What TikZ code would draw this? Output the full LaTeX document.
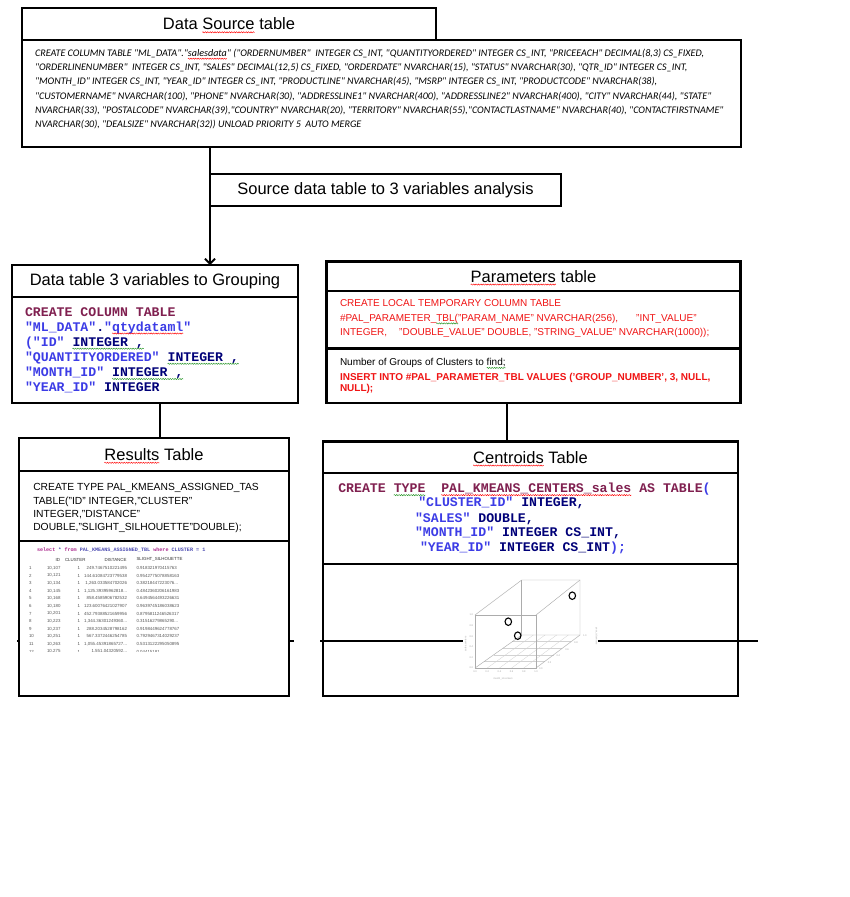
\documentclass[tikz,border=0pt]{standalone}
\usepackage{fontspec}
\setmainfont{Liberation Sans}
\newfontfamily\calfont{Carlito}
\newfontfamily\monofont{Liberation Mono}
\usetikzlibrary{arrows.meta,calc,shapes.geometric,decorations.pathmorphing}
\definecolor{kw}{RGB}{128,32,80}
\definecolor{str}{RGB}{60,60,230}
\definecolor{ty}{RGB}{0,0,120}
\definecolor{sqg}{RGB}{40,150,40}
\definecolor{qmag}{RGB}{170,40,140}
\definecolor{pred}{RGB}{240,20,20}
\newsavebox\sqbox
\newcommand\sqw[2]{\sbox\sqbox{#2}\rlap{\usebox\sqbox}\tikz[x=1pt,y=1pt,baseline=0pt]{\useasboundingbox (0,0) rectangle (\wd\sqbox,0); \draw[#1,line width=0.45pt,decorate,decoration={zigzag,segment length=2.4pt,amplitude=0.6pt}] (0,-2.4) -- (\wd\sqbox,-2.4);}}
\newcommand\rsq[1]{\sqw{red}{#1}}
\newcommand\gsq[1]{\sqw{sqg}{#1}}
\newcommand\ckw[1]{\textcolor{kw}{#1}}
\newcommand\cstr[1]{\textcolor{str}{#1}}
\newcommand\cty[1]{\textcolor{ty}{#1}}
\newcommand\mydots{.\kern0pt.\kern0pt.}
\tikzset{
 box/.style={draw, line width=2.6pt, inner sep=0pt, outer sep=0pt},
 ttl/.style={box, font=\fontsize{16.5}{19}\selectfont},
 txt/.style={anchor=base west, inner sep=0pt, outer sep=0pt},
 dsf/.style={txt, font=\calfont\itshape\fontsize{10.1}{12}\selectfont},
 code/.style={txt, font=\monofont\bfseries\fontsize{13.2}{15}\selectfont},
 ar/.style={txt, font=\fontsize{10}{12}\selectfont},
 arr/.style={txt, font=\fontsize{10.3}{12}\selectfont},
 arb/.style={txt, font=\bfseries\fontsize{10}{12}\selectfont},
 conn/.style={line width=1.8pt},
 cell/.style={inner sep=0pt, outer sep=0pt, font=\fontsize{4.4}{5}\selectfont, text=black!65},
 tick/.style={inner sep=0pt, outer sep=0pt, font=\fontsize{2.5}{3}\selectfont, text=gray!70},
 cgrid/.style={gray!35, line width=0.3pt},
 cedge/.style={gray!65, line width=0.45pt},
 dot/.style={ellipse, draw=black, line width=1.1pt, minimum width=6.5pt, minimum height=7.5pt, inner sep=0pt}
}
\begin{document}
\begin{tikzpicture}[x=1pt,y=-1pt]
\useasboundingbox (0,0) rectangle (850,897);
\fill[white] (0,0) rectangle (850,897);

% boxes
\node[ttl, minimum width=414, minimum height=32] (dsT) at (229,24) {Data \rsq{Source} table};
\node[box, minimum width=719, minimum height=107] (dsB) at (381.5,93.5) {};
\node[ttl, minimum width=351, minimum height=32] (srcB) at (385.5,190) {Source data table to 3 variables analysis};
\node[ttl, minimum width=286, minimum height=32] (dtT) at (155,281) {Data table 3 variables to Grouping};
\node[box, minimum width=286, minimum height=106] (dtB) at (155,350) {};
\node[ttl, minimum width=414, minimum height=29.5] (ptT) at (533.5,276.25) {\rsq{Parameters} table};
\node[box, minimum width=414, minimum height=57.5] (ptB1) at (533.5,319.75) {};
\node[box, minimum width=414, minimum height=54.5] (ptB2) at (533.5,375.75) {};
\node[ttl, minimum width=270, minimum height=33] (rtT) at (154,454.5) {\rsq{Results} Table};
\node[box, minimum width=270, minimum height=70] (rtB1) at (154,506) {};
\node[box, minimum width=270, minimum height=155] (rtB2) at (154,618.5) {};
\node[ttl, minimum width=415, minimum height=31.5] (ctT) at (530.5,457.25) {\rsq{Centroids} Table};
\node[box, minimum width=415, minimum height=91] (ctB1) at (530.5,518.5) {};
\node[box, minimum width=415, minimum height=132] (ctB2) at (530.5,630) {};

% connectors
\draw[conn, -{Straight Barb[length=5pt,width=10pt]}] (dsB.south -| srcB.west) -- (dtT.north -| srcB.west);
\draw[conn] ([xshift=5]dtB.south) -- ([xshift=6]rtT.north);
\draw[conn] ([xshift=-26.5]ptB2.south) -- ([xshift=-23.5]ctT.north);

% horizontal line segments
\coordinate (h1) at (17,641);
\coordinate (h2) at (20,641);
\coordinate (h3) at (288,641);
\coordinate (h4) at (294,641);
\coordinate (h5) at (320,641);
\coordinate (h6) at (463,641);
\coordinate (h7) at (598,641);
\coordinate (h8) at (758,641);
\draw[conn] (h1) -- (h2);
\draw[conn] (h3) -- (h4);
\draw[conn] (h5) -- (h6);
\draw[conn] (h7) -- (h8);

% data source text
\node[dsf] (ds1) at (35,56.3) {CREATE COLUMN TABLE "ML\_DATA"."\rsq{salesdata}" ("ORDERNUMBER"~ INTEGER CS\_INT, "QUANTITYORDERED" INTEGER CS\_INT, "PRICEEACH" DECIMAL(8,3) CS\_FIXED,};
\node[dsf] (ds2) at (35,70.6) {"ORDERLINENUMBER"~ INTEGER CS\_INT, "SALES" DECIMAL(12,5) CS\_FIXED, "ORDERDATE" NVARCHAR(15), "STATUS" NVARCHAR(30), "QTR\_ID" INTEGER CS\_INT,};
\node[dsf] (ds3) at (35,84.9) {"MONTH\_ID" INTEGER CS\_INT, "YEAR\_ID" INTEGER CS\_INT, "PRODUCTLINE" NVARCHAR(45), "MSRP" INTEGER CS\_INT, "PRODUCTCODE" NVARCHAR(38),};
\node[dsf] (ds4) at (35,99.2) {"CUSTOMERNAME" NVARCHAR(100), "PHONE" NVARCHAR(30), "ADDRESSLINE1" NVARCHAR(400), "ADDRESSLINE2" NVARCHAR(400), "CITY" NVARCHAR(44), "STATE"};
\node[dsf] (ds5) at (35,113.3) {NVARCHAR(33), "POSTALCODE" NVARCHAR(39),"COUNTRY" NVARCHAR(20), "TERRITORY" NVARCHAR(55),"CONTACTLASTNAME" NVARCHAR(40), "CONTACTFIRSTNAME"};
\node[dsf] (ds6) at (35,127.3) {NVARCHAR(30), "DEALSIZE" NVARCHAR(32)) UNLOAD PRIORITY 5~ AUTO MERGE};

% data table code
\node[code] (dt1) at (25,316) {\ckw{CREATE COLUMN TABLE}};
\node[code] (dt2) at (25,331.1) {\cstr{"ML\_DATA"}\cty{.}\cstr{"\rsq{qtydataml}"}};
\node[code] (dt3) at (25,346.3) {\cstr{("ID"} \cty{\gsq{INTEGER ,}}};
\node[code] (dt4) at (25,361.4) {\cstr{"QUANTITYORDERED"} \cty{\gsq{INTEGER ,}}};
\node[code] (dt5) at (25,376.6) {\cstr{"MONTH\_ID"} \cty{\gsq{INTEGER ,}}};
\node[code] (dt6) at (25,391.7) {\cstr{"YEAR\_ID"} \cty{INTEGER}};

% parameters text
\node[ar, text=pred] (pt1) at (340,306.7) {CREATE LOCAL TEMPORARY COLUMN TABLE};
\node[ar, text=pred] (pt2) at (340,321) {\#PAL\_PARAMETER\_\gsq{TBL(}"PARAM\_NAME" NVARCHAR(256),\hspace{18pt}"INT\_VALUE"};
\node[ar, text=pred] (pt3) at (340,335) {INTEGER,\hspace{12pt}"DOUBLE\_VALUE" DOUBLE, "STRING\_VALUE" NVARCHAR(1000));};
\node[ar] (pt4) at (340,365.5) {Number of Groups of Clusters to \gsq{find;}};
\node[arb, text=pred] (pt5) at (340,380.7) {INSERT INTO \#PAL\_PARAMETER\_TBL VALUES ('GROUP\_NUMBER', 3, NULL,};
\node[arb, text=pred] (pt6) at (340,391.7) {NULL);};

% results text
\node[arr] (rt1) at (33.3,490) {CREATE TYPE PAL\_KMEANS\_ASSIGNED\_TAS};
\node[arr] (rt2) at (33.3,504) {TABLE("ID" INTEGER,"CLUSTER"};
\node[arr] (rt3) at (33.3,517.7) {INTEGER,"DISTANCE"};
\node[arr] (rt4) at (33.3,530) {DOUBLE,"SLIGHT\_SILHOUETTE"DOUBLE);};

% centroids code
\node[code] (ct1) at (338.3,492.7) {\ckw{CREATE} \ckw{\gsq{TYPE}}~~\ckw{\rsq{PAL\_KMEANS\_CENTERS\_sales}} \ckw{AS TABLE}\cstr{(}};
\node[code] (ct2) at (418.3,506.7) {\cstr{"CLUSTER\_ID"} \cty{INTEGER,}};
\node[code] (ct3) at (415,522.3) {\cstr{"SALES"} \cty{DOUBLE,}};
\node[code] (ct4) at (415,536.7) {\cstr{"MONTH\_ID"} \cty{INTEGER CS\_INT,}};
\node[code] (ct5) at (420,551.7) {\cstr{"YEAR\_ID"} \cty{INTEGER CS\_INT}\cstr{);}};

% results screenshot
\begin{scope}
\clip (21,543) rectangle (216,651);
\node[inner sep=0pt, outer sep=0pt, anchor=west, font=\monofont\bfseries\fontsize{5.1}{6}\selectfont, text=gray!60!blue] (q) at (37,550) {\textcolor{qmag}{select} * \textcolor{qmag}{from} PAL\_KMEANS\_ASSIGNED\_TBL \textcolor{qmag}{where} CLUSTER = 1};
\node[cell, anchor=east, text=black!80] (hid) at (60,559.5) {ID};
\node[cell, anchor=west, text=black!80] (hcl) at (65,559.5) {CLUSTER};
\node[cell, anchor=east, text=black!80] (hdi) at (126.5,559.5) {DISTANCE};
\node[cell, anchor=west, text=black!80] (hsi) at (136.5,559.5) {SLIGHT\_SILHOUETTE};
\foreach \n/\id/\dist/\sil in {
1/{10,107}/249.7467510221495/0.918321970415763,
2/{10,121}/144.61084723779538/0.9542775078858163,
3/{10,134}/{1,263.033584702026}/{0.38218447223076\mydots},
4/{10,145}/{1,125.39395962818\mydots}/0.4842360206161983,
5/{10,168}/858.4585906782532/0.6494564493226631,
6/{10,180}/123.60076421027907/0.9639745186038623,
7/{10,201}/452.79388521659956/0.8795811246526317,
8/{10,223}/{1,344.36301249360\mydots}/{0.31516279865290\mydots},
9/{10,237}/288.2034528798162/0.9198449624778767,
10/{10,251}/567.3372446254785/0.7929467314029237,
11/{10,263}/{1,055.45391865727\mydots}/0.5313122295050895,
12/{10,275}/{1,551.04320592\mydots}/{0.04415181\mydots}}
{
 \pgfmathsetmacro\yy{568+(\n-1)*7.6}
 \node[cell, anchor=west] (rn\n) at (29,\yy) {\n};
 \node[cell, anchor=east] (rid\n) at (60.5,\yy) {\id};
 \node[cell, anchor=east] (rc\n) at (80,\yy) {1};
 \node[cell, anchor=east] (rd\n) at (127,\yy) {\dist};
 \node[cell, anchor=west] (rs\n) at (136.5,\yy) {\sil};
}
\end{scope}

% centroid chart
\coordinate (ftl) at (475,615);
\coordinate (ftr) at (536,615);
\coordinate (fbl) at (475,668);
\coordinate (fbr) at (536,668);
\coordinate (btl) at (521.7,580);
\coordinate (btr) at (580,580);
\coordinate (bbl) at (521.7,635);
\coordinate (bbr) at (580,635);
\foreach \t in {0.2,0.4,0.6,0.8}{
 \draw[cgrid] ($(fbl)!\t!(fbr)$) -- ($(bbl)!\t!(bbr)$);
 \draw[cgrid] ($(fbl)!\t!(bbl)$) -- ($(fbr)!\t!(bbr)$);
}
\draw[cedge] (fbl) -- (bbl) -- (bbr);
\draw[cedge] (bbl) -- (btl);
\draw[cedge] (ftl) rectangle (fbr);
\draw[cedge] (ftl) -- (btl) -- (btr) -- (bbr) -- (fbr);
\draw[cedge] (ftr) -- (btr);
\foreach \v [count=\i from 0] in {0.0,0.2,0.4,0.6,0.8,1.0}{
 \node[tick, anchor=east] (ly\i) at ($(fbl)!\i/5!(ftl)+(-2,0)$) {\v};
 \node[tick, anchor=north] (lx\i) at ($(fbl)!\i/5!(fbr)+(0,3)$) {\v};
 \node[tick, anchor=west] (lz\i) at ($(fbr)!\i/5!(bbr)+(3,1)$) {\v};
}
\node[tick] (axx) at (503,679) {month\_id.centers};
\node[tick, rotate=90] (axy) at (465.5,644) {sales.centers};
\node[tick, rotate=-90] (axz) at (596.5,636) {year\_id.centers};
\node[dot] (c1) at (508.3,621.7) {};
\node[dot] (c2) at (517.7,635.7) {};
\node[dot] (c3) at (572.3,595.7) {};
\end{tikzpicture}
\end{document}
